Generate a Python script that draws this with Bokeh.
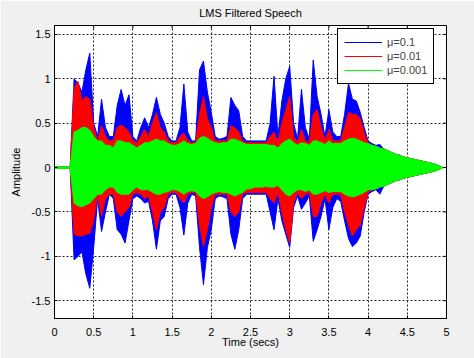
from bokeh.plotting import figure
from bokeh.models import FixedTicker, Legend, LegendItem, Range1d
from bokeh.embed import file_html
from bokeh.resources import INLINE

# ---- data (envelope of each filtered signal) ----
TIME = [0.00, 0.05, 0.10, 0.15, 0.20, 0.25, 0.30, 0.35, 0.40, 0.45,
        0.50, 0.55, 0.60, 0.65, 0.70, 0.75, 0.80, 0.85, 0.90, 0.95,
        1.00, 1.05, 1.10, 1.15, 1.20, 1.25, 1.30, 1.35, 1.40, 1.45,
        1.50, 1.55, 1.60, 1.65, 1.70, 1.75, 1.80, 1.85, 1.90, 1.95,
        2.00, 2.05, 2.10, 2.15, 2.20, 2.25, 2.30, 2.35, 2.40, 2.45,
        2.50, 2.55, 2.60, 2.65, 2.70, 2.75, 2.80, 2.85, 2.90, 2.95,
        3.00, 3.05, 3.10, 3.15, 3.20, 3.25, 3.30, 3.35, 3.40, 3.45,
        3.50, 3.55, 3.60, 3.65, 3.70, 3.75, 3.80, 3.85, 3.90, 3.95,
        4.00, 4.05, 4.10, 4.15, 4.20, 4.25, 4.30, 4.35, 4.40, 4.45,
        4.50, 4.55, 4.60, 4.65, 4.70, 4.75, 4.80, 4.85, 4.90, 4.95]

MU01_UPPER = [0.01, 0.01, 0.01, 0.01, 0.01, 1.00, 0.95, 0.85, 1.10, 1.29,
              0.50, 0.35, 0.77, 0.45, 0.35, 0.35, 0.70, 0.88, 0.70, 0.82,
              0.35, 0.30, 0.45, 0.56, 0.45, 0.60, 0.79, 0.60, 0.50, 0.35,
              0.30, 0.30, 0.45, 0.94, 0.40, 0.30, 0.30, 1.10, 1.20, 0.85,
              0.62, 0.35, 0.32, 0.33, 0.35, 0.79, 0.70, 0.64, 0.35, 0.30,
              0.30, 0.30, 0.30, 0.30, 0.30, 0.50, 1.03, 0.35, 0.75, 1.00,
              1.14, 0.50, 0.32, 0.88, 0.45, 0.32, 1.21, 0.80, 0.60, 0.35,
              0.65, 0.40, 0.35, 0.35, 0.60, 0.95, 0.77, 0.75, 0.62, 0.45,
              0.30, 0.27, 0.25, 0.26, 0.21, 0.19, 0.17, 0.15, 0.14, 0.12,
              0.11, 0.10, 0.09, 0.08, 0.07, 0.06, 0.05, 0.04, 0.02, 0.00]
MU01_LOWER = [-0.01, -0.01, -0.01, -0.01, -0.01, -1.04, -1.00, -0.95, -1.20, -1.36,
              -0.90, -0.35, -0.72, -0.50, -0.30, -0.35, -0.70, -0.75, -0.85, -0.60,
              -0.35, -0.32, -0.35, -0.40, -0.38, -0.60, -0.92, -0.60, -0.55, -0.35,
              -0.30, -0.30, -0.45, -0.76, -0.40, -0.30, -0.32, -0.90, -1.32, -0.90,
              -0.70, -0.35, -0.32, -0.33, -0.35, -0.75, -0.92, -0.70, -0.35, -0.30,
              -0.30, -0.30, -0.30, -0.30, -0.30, -0.50, -0.70, -0.35, -0.60, -0.75,
              -0.90, -0.45, -0.32, -0.47, -0.40, -0.32, -0.83, -0.70, -0.55, -0.35,
              -0.70, -0.45, -0.35, -0.38, -0.60, -0.80, -0.89, -0.85, -0.77, -0.50,
              -0.30, -0.27, -0.25, -0.30, -0.21, -0.19, -0.17, -0.15, -0.14, -0.12,
              -0.11, -0.10, -0.09, -0.08, -0.07, -0.06, -0.05, -0.04, -0.02, 0.00]

MU001_UPPER = [0.01, 0.01, 0.01, 0.01, 0.01, 0.90, 0.97, 0.75, 0.80, 0.77,
               0.45, 0.30, 0.47, 0.35, 0.30, 0.30, 0.45, 0.48, 0.45, 0.40,
               0.30, 0.28, 0.35, 0.43, 0.35, 0.50, 0.62, 0.45, 0.40, 0.30,
               0.28, 0.28, 0.35, 0.39, 0.30, 0.28, 0.28, 0.60, 0.80, 0.55,
               0.45, 0.30, 0.30, 0.30, 0.30, 0.47, 0.45, 0.40, 0.30, 0.28,
               0.28, 0.28, 0.28, 0.28, 0.28, 0.35, 0.40, 0.28, 0.50, 0.65,
               0.80, 0.35, 0.28, 0.43, 0.30, 0.28, 0.60, 0.65, 0.45, 0.30,
               0.43, 0.30, 0.30, 0.30, 0.45, 0.62, 0.60, 0.60, 0.55, 0.39,
               0.28, 0.25, 0.24, 0.22, 0.21, 0.19, 0.17, 0.15, 0.14, 0.12,
               0.11, 0.10, 0.09, 0.08, 0.07, 0.06, 0.05, 0.04, 0.02, 0.00]
MU001_LOWER = [-0.01, -0.01, -0.01, -0.01, -0.01, -0.75, -0.77, -0.77, -0.75, -0.74,
               -0.60, -0.30, -0.55, -0.35, -0.30, -0.30, -0.50, -0.55, -0.50, -0.45,
               -0.30, -0.28, -0.30, -0.35, -0.32, -0.50, -0.70, -0.50, -0.45, -0.30,
               -0.28, -0.28, -0.35, -0.40, -0.30, -0.28, -0.28, -0.65, -0.89, -0.70,
               -0.45, -0.30, -0.30, -0.30, -0.30, -0.50, -0.55, -0.50, -0.30, -0.28,
               -0.28, -0.28, -0.28, -0.28, -0.28, -0.35, -0.40, -0.28, -0.50, -0.70,
               -0.85, -0.40, -0.28, -0.35, -0.30, -0.28, -0.55, -0.55, -0.40, -0.30,
               -0.40, -0.30, -0.30, -0.30, -0.50, -0.65, -0.77, -0.70, -0.65, -0.45,
               -0.28, -0.25, -0.24, -0.22, -0.21, -0.19, -0.17, -0.15, -0.14, -0.12,
               -0.11, -0.10, -0.09, -0.08, -0.07, -0.06, -0.05, -0.04, -0.02, 0.00]

MU0001_UPPER = [0.01, 0.01, 0.01, 0.01, 0.01, 0.40, 0.42, 0.45, 0.45, 0.42,
                0.35, 0.30, 0.30, 0.25, 0.25, 0.22, 0.30, 0.30, 0.28, 0.28,
                0.25, 0.22, 0.25, 0.28, 0.28, 0.30, 0.32, 0.30, 0.30, 0.27,
                0.25, 0.25, 0.27, 0.30, 0.27, 0.26, 0.27, 0.33, 0.35, 0.33,
                0.30, 0.28, 0.27, 0.28, 0.28, 0.32, 0.32, 0.30, 0.28, 0.26,
                0.26, 0.26, 0.26, 0.26, 0.26, 0.25, 0.25, 0.22, 0.27, 0.30,
                0.32, 0.28, 0.25, 0.28, 0.27, 0.25, 0.30, 0.30, 0.28, 0.26,
                0.30, 0.27, 0.27, 0.27, 0.30, 0.32, 0.33, 0.32, 0.30, 0.28,
                0.27, 0.25, 0.24, 0.22, 0.21, 0.19, 0.17, 0.15, 0.14, 0.12,
                0.11, 0.10, 0.09, 0.08, 0.07, 0.06, 0.05, 0.04, 0.02, 0.01]
MU0001_LOWER = [-0.01, -0.01, -0.01, -0.01, -0.01, -0.40, -0.43, -0.44, -0.42, -0.40,
                -0.35, -0.30, -0.30, -0.25, -0.22, -0.22, -0.28, -0.30, -0.30, -0.30,
                -0.25, -0.22, -0.25, -0.25, -0.25, -0.28, -0.30, -0.30, -0.28, -0.27,
                -0.25, -0.25, -0.27, -0.30, -0.27, -0.26, -0.27, -0.32, -0.35, -0.33,
                -0.30, -0.28, -0.27, -0.28, -0.28, -0.30, -0.32, -0.30, -0.28, -0.24,
                -0.24, -0.22, -0.22, -0.22, -0.21, -0.22, -0.22, -0.20, -0.25, -0.30,
                -0.32, -0.28, -0.25, -0.25, -0.27, -0.25, -0.30, -0.30, -0.28, -0.26,
                -0.28, -0.27, -0.27, -0.27, -0.30, -0.32, -0.33, -0.32, -0.30, -0.28,
                -0.25, -0.25, -0.24, -0.22, -0.21, -0.19, -0.17, -0.15, -0.14, -0.12,
                -0.11, -0.10, -0.09, -0.08, -0.07, -0.06, -0.05, -0.04, -0.02, -0.01]

SERIES_LABELS = ["\u03bc=0.1", "\u03bc=0.01", "\u03bc=0.001"]
SERIES_COLORS = ["#0000ff", "#ff0000", "#00ff00"]

X_TICKS = [0, 0.5, 1, 1.5, 2, 2.5, 3, 3.5, 4, 4.5, 5]
X_TICK_LABELS = ["0", "0.5", "1", "1.5", "2", "2.5", "3", "3.5", "4", "4.5", "5"]
Y_TICKS = [-1.5, -1, -0.5, 0, 0.5, 1, 1.5]
Y_TICK_LABELS = ["-1.5", "-1", "-0.5", "0", "0.5", "1", "1.5"]
X_MIN, X_MAX = 0, 5
Y_MIN, Y_MAX = -1.7, 1.6

FONT = "Liberation Sans"
BG = "#f0f0f0"

p = figure(width=474, height=358,
           x_range=Range1d(X_MIN, X_MAX), y_range=Range1d(Y_MIN, Y_MAX),
           output_backend="svg", toolbar_location=None,
           title="LMS Filtered Speech",
           min_border_left=54, min_border_right=28,
           min_border_top=25, min_border_bottom=40)

p.background_fill_color = "white"
p.border_fill_color = BG
p.outline_line_color = "black"
p.outline_line_width = 1
p.outline_line_alpha = 1.0

p.title.text_font = FONT
p.title.text_font_size = "11px"
p.title.text_font_style = "normal"
p.title.text_color = "black"
p.title.text_line_height = 1.0
p.title.align = "center"
p.title.vertical_align = "top"
p.title.standoff = 10

# axes
for ax in (p.xaxis[0], p.yaxis[0]):
    ax.major_tick_in = 3
    ax.major_tick_out = 0
    ax.minor_tick_line_color = None
    ax.axis_line_color = "black"
    ax.major_label_text_font = FONT
    ax.major_label_text_font_size = "11px"
    ax.major_label_text_color = "black"
    ax.axis_label_text_font = FONT
    ax.axis_label_text_font_size = "11px"
    ax.axis_label_text_font_style = "normal"
    ax.axis_label_text_color = "black"

p.xaxis.ticker = FixedTicker(ticks=X_TICKS)
p.xaxis.major_label_overrides = dict(zip(X_TICKS, X_TICK_LABELS))
p.xaxis.axis_label = "Time (secs)"
p.xaxis.major_label_standoff = 9
p.xaxis.axis_label_standoff = -3
p.xaxis.axis_label_text_line_height = 1.0

p.yaxis.ticker = FixedTicker(ticks=Y_TICKS)
p.yaxis.major_label_overrides = dict(zip(Y_TICKS, Y_TICK_LABELS))
p.yaxis.axis_label = "Amplitude"
p.yaxis.major_label_standoff = 4
p.yaxis.axis_label_standoff = 7

p.grid.grid_line_color = "black"
p.grid.grid_line_dash = "2 2"
p.grid.grid_line_alpha = 0.85
p.xgrid.ticker = FixedTicker(ticks=X_TICKS)
p.ygrid.ticker = FixedTicker(ticks=Y_TICKS)

# data
series = [(MU01_UPPER, MU01_LOWER), (MU001_UPPER, MU001_LOWER), (MU0001_UPPER, MU0001_LOWER)]
items = []
for (up, lo), lab, col in zip(series, SERIES_LABELS, SERIES_COLORS):
    p.varea(x=TIME, y1=lo, y2=up, fill_color=col, fill_alpha=1.0)
    r = p.line(TIME, up, line_color=col, line_width=1)
    p.line(TIME, lo, line_color=col, line_width=1)
    items.append(LegendItem(label=lab, renderers=[r]))

# inner tick marks on the top and right edges of the box (MATLAB style)
tick_dy = 3 * (Y_MAX - Y_MIN) / 293.0
tick_dx = 3 * (X_MAX - X_MIN) / 392.0
p.segment(x0=X_TICKS, y0=[Y_MAX] * len(X_TICKS), x1=X_TICKS,
          y1=[Y_MAX - tick_dy] * len(X_TICKS), line_color="black", line_width=1)
p.segment(x0=[X_MAX] * len(Y_TICKS), y0=Y_TICKS, x1=[X_MAX - tick_dx] * len(Y_TICKS),
          y1=Y_TICKS, line_color="black", line_width=1)

legend = Legend(items=items, location=(283, 234), margin=0, padding=6,
                glyph_width=38, glyph_height=14, label_height=14, spacing=0,
                label_standoff=5, label_text_font=FONT, label_text_font_size="11px",
                border_line_color="black", border_line_width=1, border_line_alpha=1,
                background_fill_color="white", background_fill_alpha=1)
p.add_layout(legend, "center")

open("out.html", "w").write(file_html(p, INLINE))
